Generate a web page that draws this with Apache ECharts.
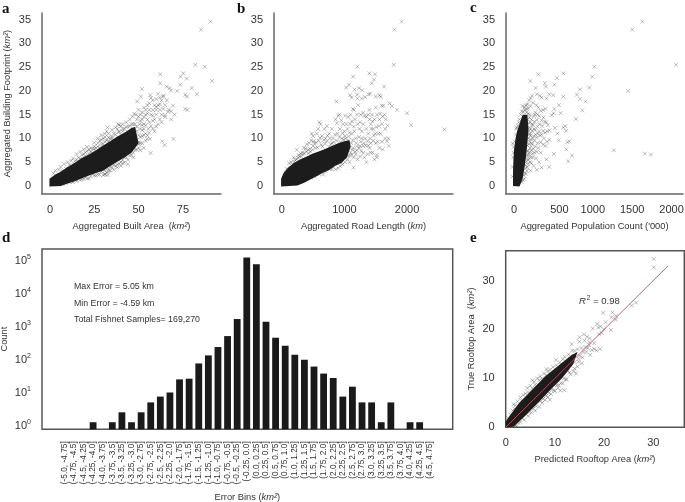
<!DOCTYPE html>
<html><head><meta charset="utf-8">
<script src="https://cdn.jsdelivr.net/npm/echarts@6/dist/echarts.min.js"></script>
<style>html,body{margin:0;padding:0;background:#fff}#c{width:685px;height:502px}</style></head>
<body><div id="c"></div>
<script>
const footprintTicks=[0,5,10,15,20,25,30,35];
const builtTicks=[0,25,50,75];
const roadTicks=[0,1000,2000];
const popTicks=[0,500,1000,1500,2000];
const rooftopTicks=[0,10,20,30];
const countTicks=[1,10,100,1000,10000,100000];

// dense, fully inked part of each cloud: outline
const coreBuilt=[[-0.3,1.5],[3,2.4],[6,3],[10,4],[14,4.9],[18,5.9],[22,6.6],[26,7.5],[30,8.5],[34,9.4],[38,10.4],[42,11.2],[46,12.2],[48,12.4],[50,9],[46,7],[42,6],[38,5.1],[34,4.2],[30,3.2],[26,2.7],[22,2.2],[18,1.6],[14,1],[10,0.5],[6,0],[-0.3,-0.1]];
const coreRoad=[[-10,1.5],[30,2.7],[100,3.8],[200,4.9],[300,5.6],[400,6.2],[500,6.8],[600,7.3],[700,7.8],[800,8.4],[900,9],[1000,9.4],[1080,9.6],[1100,8.3],[1040,6],[950,4.8],[850,4.2],[750,3.3],[650,2.7],[550,2],[450,1.3],[350,0.6],[250,0.1],[-10,-0.1]];
const corePop=[[-12,0],[-12,3],[-8,5],[0,7.5],[20,10],[40,11.5],[80,13.5],[110,15],[170,15],[185,12],[170,9],[155,6.5],[135,4],[110,1.5],[70,-0.1]];
const coreRoof=[[0,1.2],[2.6,4.8],[5.3,7.6],[8,10.4],[10.7,12.6],[13.4,14.8],[14.6,15.4],[13.7,12.9],[11.4,10],[9.3,7.9],[6.6,5],[3.9,2.3],[1.6,0.1],[0,0]];

const builtPoints=[[90.6,34.6],[85.3,32.9],[82,25.5],[87.4,25.1],[91.5,22.1],[62.2,23.5],[75.2,23.7],[73.7,23],[77.2,22.6],[62.2,21.6],[73.5,21.3],[51.9,20.4],[65.8,20.9],[67.5,20.6],[68.2,20.1],[71.8,20],[80,20.6],[82.9,19.3],[76.3,19.2],[77.2,18.8],[76.3,16.2],[77.6,16],[69.4,16.9],[68.4,15.7],[66.7,15.6],[70.3,15],[64.8,14.9],[68.4,14],[69.7,9.9],[63.3,9.4],[64.7,8.6],[56.8,6.9],[56.4,9.9],[54.9,9.9],[51.3,18.8],[49.2,17.8],[56.6,19.1],[61,19.4],[63.9,18.8],
[14,5.2],[16,6],[18,6.5],[20,7],[22,7.6],[24,7.8],[25,8.3],[26,7.4],[27,9],[28,9.5],[29,8.8],[30,10],[31,10.3],[32,11.5],[32.5,12.3],[33,11],[34,10],[35,10.4],[36,11],[38,12],[38.5,13],[39,11.3],[40,12.6],[41,11.5],[41,13],[42,12],[43,13.4],[44,12.5],[45,14],[45,11],[46,13],[46.5,14.6],[47,12],[47.5,15.2],[48,13],[48.5,15],[49,14],[49,11.5],[50,16],[50.5,13],[51,15],[51,12],[52,14],[52,10.5],[53,16.5],[53,13],[54,15],[54,11],[55,17],[55,14],[55.5,12],[56,16],[56,13.4],[57,15],[57,18.5],[58,16],[58,12],[59,17],[59,14],[60,18.3],[60,15],[61,17],[61,13],[62,16],[63,18],[63,15],[64,19],[65,17],[65,14.5],[66,18],[67,16],
[8,1],[12,1],[15,1.3],[18,1.4],[20,1.8],[22,1.6],[24,2.5],[26,2.2],[28,2.4],[30,2.3],[31,2.5],[33,3.5],[34,4],[36,4.4],[38,4.5],[40,5],[41,4.8],[42,6],[44,5.5],[46,6.5],[47,6],[48,7.6],[50,8],[51,7.5],[52,9],[53,8],[54,9.5],
[36,9.6],[37,8],[39,9.5],[40,10.7],[41,7.5],[43,8.5],[44,10],[45,8.6],[46,10.5],[47,8.5],[48,10.5],[49,9.7],[50,10.7],[50,9.2],[51,10.3],[52,11.7],[53,10.7],[53,12],[54,12.8],[55,10.6],[56,11.2],[57,12.6],[58,13.7],[59,11.5],[60,12.5],[60,16.6],[62,14],[62,18.6],
[8,3],[10,3.6],[12,4.2],[14,4.4],[16,5],[18,5.6],[20,6.3],[22,6.7],[24,7],[26,8],[28,8],[30,8.8],[32,9.6],[34,9.3],
[2,2.6],[3,3.2],[4,2],[5,3.4],[6,4],[7,3.1],[8,4.6],[9,3.6],[10,5],[11,4.4],[12,5.3],[13,5.8],[15,5.5],[15,6.7],[17,5.7],[17,7.2],[19,6.7],[19,7.7],[21,7.4],[21,8.2],[23,8],[23,7.2],[25,7.8],[25,9.1],[27,8.3],[27,10],[29,9.7],[29,10.7],[31,9.3],[31,11],[33,10.2],[33,9.4],[35,10],[35,11.8],[37,10.8],[37,12.3],[39,11.5],[39,12.8],[41,12],[43,12.4],[43,11],[45,12.6],[47,13],[49,12.5],[51,13.7],
[5,0.3],[7,0.4],[9,0.6],[11,0.8],[13,0.8],[15,1],[17,1.3],[19,1.5],[21,1.6],[23,2],[25,2.2],[27,2.4],[29,3],[31,3.2],[32,2.8],[33,3.1],[35,3.9],[37,4.2],[39,4.7],[41,5.5],[43,6],[45,6.4],[47,7],[49,7.6],[50,8.8],[51,9],[47,8.5],[45,7.8],[43,7.2],[31,2.4],[32.5,2.3],[34,3.2],[36,3.4],[38,3.9],[40,4.2],[42,4.9],[44,4.6],
[52,15.5],[54,16],[56,17.4],[58,18],[60,16],[62,17.2],[64,16.2],[63,13.4],[58,14.8],[55,15.2],[53,14.5],[52,12.8],[50,14.6],[48,12],[46,11.4],[44,11.4],[42,9.6],[40,9],[38,8.7]];

const roadPoints=[[1915,34.6],[1798,32.9],[1787,25.5],[1207,25.1],[1138,23],[1399,23.7],[1489,23.5],[1473,22.4],[1436,21.6],[1633,20.9],[1027,20.7],[1074,21.3],[1160,20.3],[1234,20.6],[1282,20.1],[1090,19.1],[1117,18.6],[1202,19.2],[1207,18.4],[1277,18.4],[1330,18.7],[1383,19.3],[1410,19.4],[1500,18.8],[1559,19.1],[1580,18.8],[872,17.8],[1138,16.2],[1718,17.4],[1760,16.8],[1622,16.9],[1596,16.9],[1840,16],[2000,15.3],[2064,12.8],[2596,11.9],[1702,10],[1681,9.4],[1707,8.4],[1612,7.7],[1516,6.5],[1479,5.6],[1144,3.85],
[60,2.8],[120,4.8],[170,4.5],[190,6],[240,7.6],[260,5.9],[300,6.8],[330,7],[350,8],[400,8.8],[420,7.6],[440,9],[470,9.6],[480,11],[500,10.5],[520,9],[560,11],[580,12],[600,13.4],[620,13],[640,10.5],[680,12],[700,10],[720,12.6],[760,11],[800,12],[820,10],[860,14],[880,13.2],[900,14.8],[920,15],[930,12],[960,10],[980,13],[1000,11.5],[1020,10],[1050,12],[1060,14.5],[1090,13],[1100,15],[1120,11],[1150,16],[1170,14],[1180,10],[1210,13],[1220,17],[1240,12],[1260,15],[1280,10],[1300,13],[1320,14.7],[1350,12],[1380,15],[1400,16],[1420,13],[1440,15],[1460,12],[1480,14],[1500,16.5],[1520,15],[1540,11],[1560,14],[1600,13],[1640,15],[1650,12],
[640,3],[680,3.4],[720,4],[760,4.2],[820,4],[900,3.7],[960,5],[1000,6],[1050,5.6],[1100,7],[1150,6],[1200,7.5],[1250,6.2],[1300,7],[1350,5],[1400,8],[1450,7],[1500,9],[1520,6],[1560,8],[1600,9.3],[1650,10],
[760,8.2],[800,9],[840,8],[880,9.5],[920,10.3],[950,8.5],[990,9.7],[1040,8.8],[1070,10.4],[1110,9],[1140,8],[1160,11.5],[1190,9],[1230,10.3],[1250,8.4],[1280,11.5],[1330,10],[1340,8.5],[1380,11],[1410,10],[1430,12],[1460,9.5],[1490,11],[1530,9.3],[1580,11],
[880,6],[920,5.4],[980,7],[1030,7.2],[1090,6.4],[1130,7.6],[1180,6.7],[1240,8],[1300,8.4],[1370,6.7],
[200,5.1],[280,6.2],[340,6.6],[390,7.2],[450,7.8],[500,8.4],[540,8],[590,9.5],[630,8.7],[670,9.7],[720,9.4],[770,10],
[40,2.2],[80,3.6],[130,3.9],[150,5],[210,5.5],[240,5.6],[270,6.5],[310,6.2],[360,6.9],[380,7.9],[430,6.9],[460,7.2],[490,7.6],[510,9.4],[550,9.1],[570,8.1],[610,10.1],[650,8.3],[690,8.9],[730,10.6],[780,8.8],[830,9.2],[850,10.8],[890,11],[940,9.2],[970,11.1],[1010,10.5],[1060,9.6],[1080,11.2],
[470,1.7],[520,2],[560,2.6],[600,2.5],[660,2.4],[700,3.1],[770,3.6],[800,3.5],[860,3.5],[930,4.2],[970,4.5],[1010,5],[1060,6.3],[1080,5],[1120,6.6],[1170,7.2],[1210,5.6],[1270,7.3],[1320,6],[1380,8.5],[1420,7],
[1080,8],[1130,9.6],[1200,8.3],[1260,9.3],[1310,9],[1370,9.4],[1420,9],[1470,10.6],[1510,12.4],[1550,12.6],[1570,15.2],[1610,14.6],[1660,14],[1690,12.7],[1450,13.6],[1400,14],[1350,14.6],[1300,15.4],[1250,13.4],[1200,15],[1150,12.5],[1120,13.6],[1030,13],[1010,14.8],[950,13.8]];

const popPoints=[[1628,34.6],[1501,32.9],[2055,25.5],[1019,25.1],[994,23],[626,23.7],[309,23.5],[545,22.7],[207,22.1],[393,21.6],[512,21.3],[275,20.6],[406,20.9],[1450,20],[956,20.7],[837,20.3],[799,19.2],[841,18.3],[909,17.8],[626,18.8],[448,19.3],[499,19.1],[414,18.4],[571,17],[512,16.2],[592,15.3],[503,15.3],[478,14.9],[867,15.9],[786,14.1],[520,12.2],[626,12.3],[651,12.6],[664,11.6],[550,11],[567,9.6],[677,9.2],[702,9.4],[664,7.7],[736,6.4],[689,5.2],[507,6.7],[1268,7.5],[1662,6.8],[1738,6.6],[448,4],[414,5.6],[351,3.9],
[290,19.3],[330,19],[350,18.6],[230,19],[210,18.5],[190,18],[170,17.2],[150,17],[130,16.5],[180,16.3],[210,16.8],[240,17.5],[310,16.5],[340,15.8],[370,16],[400,16.2],[270,15.5],[300,15],[320,14.7],[250,14.7],[200,15],[220,14],[260,13.5],[290,13.9],[350,13.8],[390,13.5],[410,13.4],[430,12.8],[360,12.6],[300,12.5],[240,12.8],[200,12.3],[230,11.5],[270,11.8],[320,11.5],[370,11.6],[420,11.5],[450,11.7],[210,10.6],[250,10.5],[290,10.2],[330,10.6],[380,10],[260,9.5],[300,9],[340,9.2],[420,9.3],[450,9.7],[200,9.3],[230,8.7],[270,8.3],[310,8],[370,8.7],[400,8.4],[220,7.5],[260,7],[290,7.2],[340,7],[190,6.6],[240,6],[280,5.8],[320,5],[180,5.5],[220,4.8],[250,4.2],[290,3.4],[170,4],[210,3.2],[150,2.5],[130,1.5],[100,0.8],
[-15,8.9],[-5,7],[30,12],[50,12.7],[70,14],[85,15],[100,15.7],[110,16.8],[160,15.5],[175,14],[190,13.2],[200,11],[185,10],[170,8.5],[165,7.3],[150,5.8],[140,4.4],
[120,15.6],[140,16],[160,16.2],[180,15.2],[195,14.4],[205,13.4],[190,11.6],[210,12],[195,10.8],[215,9.8],[190,8.8],[205,8],[180,7.4],[195,7],[170,6.5],[185,5.9],[160,5.2],[175,4.6],[155,3.8],[165,3.2],[140,2.8],[125,2.2],[115,1.2],[-10,6],[-5,8.2],[10,9.4],[25,10.8],[35,12.3],[60,13.4],[-18,2],[-18,4],[240,10],[225,9],[245,7.8],[235,6.8],[215,6],[205,5],[235,13],[255,12],[275,10.8],[305,11],[350,10.8],[395,11.2],[265,15],[285,17],[325,13],[375,14.4]];

const roofPoints=[[30.1,34.4],[30.1,32.7],[25.6,24.9],[26.5,25.5],[19.8,23.4],[21.7,23.5],[21.5,22.5],[22.4,22.8],[22.4,22],[20.3,21.5],[21.4,19.9],[18.6,21.1],[19.3,20.6],[17.7,20.2],[15.9,19],[15,18.4],[13.4,17],[15,17.5],[16.5,18.5],[17.1,18.2],[18,17.2],[17.5,15.8],[18.5,15.7],[19.2,16],[15.5,13.1],[14.3,11],[11.9,7.6],[11.1,7.5],[9,5.6],[8.3,11.9],[5.4,9.6],[1.6,4.7],[10.2,13.8],
[19,19],[19.5,19.3],[18.8,20.4],[20,20],[17,17.4],[16.2,16.4],[17,16.8],[16,17.7],[15.4,16.2],[14.6,16],[14,15.6],[13.5,15.7],[15,14.6],[15.8,15.4],[14.8,13.4],[14,13.3],[13.2,12.6],[12.6,11.5],[12,14.4],[12.8,14.9],[11.6,13.9],[11,13.3],[10.3,12.7],[9.6,12.3],[9,11.8],[8.6,11.4],[7.8,11],[7,10.4],[6.4,10],[5.8,9.3],[5,8.5],[4.4,8],[3.6,6.6],[3,6.1],[2.4,5.3],[1.8,3.8],[1,2.6],
[12.2,9.8],[11.8,10],[11.2,9],[10.8,8.6],[10.4,8.6],[10,8.9],[9.8,7.6],[9.4,7.7],[8.8,7],[8.2,6.4],[7.6,5.8],[7,5.3],[6.2,4.3],[5.6,3.8],[4.8,3.1],[4.2,2.6],[3.4,1.8],[2.6,0.9],[2,0.4],
[13,11.2],[14.8,14],[15.6,14.3],[16.4,15.4],[17.2,14.8],[18,16],[16.7,16.2],[13.8,11.5],[12.4,12.6],[11.5,11],[12.9,13.2],
[0.5,1.9],[1.4,3.4],[2,4.5],[3.2,5.5],[4,6.9],[4.6,7.2],[5.4,8],[6,8.7],[6.8,9.6],[7.4,10],[8.2,10.6],[9.2,11],[9.8,11.4],[10.6,11.8],[11.3,12.8],[12.2,13.5],[13,14],[13.8,14.6],
[2.2,0.2],[3,1.1],[3.8,1.5],[4.6,2.3],[5.2,3],[6,3.4],[6.8,4.2],[7.4,5],[8,5.6],[8.6,6.2],[9.2,6.8],[10,7.4],[10.6,8],[11.6,9],[12.4,9.8],[13.2,10.8],[14,12],[14.6,12.4]];

const binLabels=["(-5.0, -4.75]","(-4.75, -4.5]","(-4.5, -4.25]","(-4.25, -4.0]","(-4.0, -3.75]","(-3.75, -3.5]","(-3.5, -3.25]","(-3.25, -3.0]","(-3.0, -2.75]","(-2.75, -2.5]","(-2.5, -2.25]","(-2.25, -2.0]","(-2.0, -1.75]","(-1.75, -1.5]","(-1.5, -1.25]","(-1.25, -1.0]","(-1.0, -0.75]","(-0.75, -0.5]","(-0.5, -0.25]","(-0.25, 0.0]","(0.0, 0.25]","(0.25, 0.5]","(0.5, 0.75]","(0.75, 1.0]","(1.0, 1.25]","(1.25, 1.5]","(1.5, 1.75]","(1.75, 2.0]","(2.0, 2.25]","(2.25, 2.5]","(2.5, 2.75]","(2.75, 3.0]","(3.0, 3.25]","(3.25, 3.5]","(3.5, 3.75]","(3.75, 4.0]","(4.0, 4.25]","(4.25, 4.5]","(4.5, 4.75]"];
const binCounts=[null,null,null,1,null,1,2,1,2,4,6,8,20,21,61,107,192,413,1360,100000,62800,1125,368,210,112,79,49,30,22,6,12,4,4,1,4,null,1,1,null];
const fitLine=[[0,0],[33,33]];

const FONT='"Liberation Sans",Arial,sans-serif', TXT='#333', AX='#666';
const xMark='path://M0 0L10 10M10 0L0 10';
const COUNT_MIN=0.61, COUNT_MAX=182000;
const chart=echarts.init(document.getElementById('c'),null,{renderer:'canvas'});
const nameRich={t:{fontSize:9.3,color:TXT,fontFamily:FONT},i:{fontSize:9.3,color:TXT,fontFamily:FONT,fontStyle:'italic'}};
const nameStyle={fontSize:9.3,color:TXT,fontFamily:FONT,rich:nameRich};
const unitName=(a,u,b)=>`{t|${a}}{i|${u}}{t|${b}}`;
const lbl=(extra)=>Object.assign({color:TXT,fontSize:11,fontFamily:FONT,formatter:v=>String(v)},extra||{});

function axisX(i,min,max,ticks,name,gap,labelExtra,full){
  return {gridIndex:i,type:'value',min,max,containShape:false,splitLine:{show:false},axisTick:{show:false},
    axisLine:{show:!full,onZero:false,lineStyle:{color:AX,width:1.5}},
    axisLabel:lbl(Object.assign({customValues:ticks,margin:10,hideOverlap:false},labelExtra||{})),
    name,nameLocation:'middle',nameGap:gap,nameTextStyle:nameStyle};
}
function axisY(i,min,max,ticks,name,gap,full){
  return {gridIndex:i,type:'value',min,max,containShape:false,splitLine:{show:false},axisTick:{show:false},
    axisLine:{show:!full,onZero:false,lineStyle:{color:AX,width:1.5}},
    axisLabel:lbl({customValues:ticks,margin:11}),
    name,nameLocation:'middle',nameGap:gap,nameRotate:90,nameTextStyle:nameStyle};
}
const cores=(i,pts)=>({type:'custom',xAxisIndex:i,yAxisIndex:i,data:pts,encode:{x:0,y:1},silent:true,z:3,
  renderItem:(p,api)=>p.dataIndex!==0?null:({type:'polygon',shape:{points:pts.map(q=>api.coord(q))},style:{fill:'#1c1c1c'}})});
const marks=(i,pts)=>({type:'scatter',xAxisIndex:i,yAxisIndex:i,data:pts,symbol:xMark,symbolSize:3.8,z:4,silent:true,
  itemStyle:{color:'none',borderColor:'rgba(40,40,40,0.55)',borderWidth:0.7}});

const panelText=(t,x,y)=>({type:'text',left:x,top:y,style:{text:t,font:'bold 15px "Liberation Serif",serif',fill:'#111'}});
const noteText=(t,x,y)=>({type:'text',left:x,top:y,style:{text:t,font:'8.8px "Liberation Sans",Arial,sans-serif',fill:TXT}});

chart.setOption({
  animation:false,backgroundColor:'#fff',
  grid:[
    {left:42,top:13,width:179,height:181,outerBoundsMode:'none'},
    {left:274,top:13,width:179,height:181,outerBoundsMode:'none'},
    {left:506,top:13,width:177,height:181,outerBoundsMode:'none'},
    {left:42,top:249,width:410.7,height:180.3,outerBoundsMode:'none',show:true,borderColor:'#555',borderWidth:1.5,backgroundColor:'transparent'},
    {left:505.7,top:250.7,width:178.6,height:176.6,outerBoundsMode:'none',show:true,borderColor:'#555',borderWidth:1.5,backgroundColor:'transparent'}
  ],
  xAxis:[
    axisX(0,-4.5,96.5,builtTicks,unitName('Aggregated Built Area  (','km\u00B2',')'),28),
    axisX(1,-123,2732,roadTicks,unitName('Aggregated Road Length (','km',')'),28),
    axisX(2,-101,2145,popTicks,"Aggregated Population Count ('000)",28,{
      formatter:v=>v===500?'{s|500}':String(v),
      rich:{s:{fontSize:11,color:TXT,fontFamily:FONT,padding:[0,0,0,12]}}}),
    {gridIndex:3,type:'value',min:-2.32,max:40.44,containShape:false,splitLine:{show:false},axisTick:{show:false},axisLine:{show:false},
      axisLabel:{customValues:binLabels.map((_,k)=>k),formatter:v=>binLabels[v]||'',rotate:90,fontSize:8.3,color:TXT,fontFamily:FONT,margin:12,hideOverlap:false},
      name:unitName('Error Bins (','km\u00B2',')'),nameLocation:'middle',nameGap:64,nameMoveOverlap:false,nameTextStyle:nameStyle},
    axisX(4,0,36.3,rooftopTicks,unitName('Predicted Rooftop Area (','km\u00B2',')'),28,null,true)
  ],
  yAxis:[
    axisY(0,-1.7,36.4,footprintTicks,unitName('Aggregated Building Footprint (','km\u00B2',')'),30),
    axisY(1,-1.7,36.4,footprintTicks,''),
    axisY(2,-1.7,36.4,footprintTicks,''),
    {gridIndex:3,type:'log',min:COUNT_MIN,max:COUNT_MAX,containShape:false,splitLine:{show:false},axisTick:{show:false},axisLine:{show:false},minorTick:{show:false},
      axisLabel:{customValues:countTicks,margin:11,padding:[7,0,0,0],
        formatter:v=>'{b|10}{s|'+Math.round(Math.log10(v))+'}',
        rich:{b:{fontSize:11,color:TXT,fontFamily:FONT},s:{fontSize:7,color:TXT,fontFamily:FONT,padding:[0,0,8,0]}}},
      name:'Count',nameLocation:'middle',nameGap:33,nameMoveOverlap:false,nameRotate:90,nameTextStyle:{fontSize:9.3,color:TXT,fontFamily:FONT}},
    axisY(4,0,36.1,rooftopTicks,unitName('True Rooftop Area  (','km\u00B2',')'),30,true)
  ],
  series:[
    cores(0,coreBuilt),marks(0,builtPoints),
    cores(1,coreRoad),marks(1,roadPoints),
    cores(2,corePop),marks(2,popPoints),
    {type:'custom',xAxisIndex:3,yAxisIndex:3,data:binCounts.map((c,k)=>[k,c]).filter(d=>d[1]!=null),encode:{x:0,y:1},silent:true,
      renderItem:(p,api)=>{
        const top=api.coord([api.value(0),api.value(1)]),base=api.coord([api.value(0),COUNT_MIN]);
        return {type:'rect',shape:{x:top[0]-3.4,y:top[1],width:6.8,height:base[1]-top[1]},style:{fill:'#1a1a1a'}};
      }},
    cores(4,coreRoof),marks(4,roofPoints),
    {type:'line',xAxisIndex:4,yAxisIndex:4,data:fitLine,showSymbol:false,silent:true,z:5,lineStyle:{color:'#c4505e',width:0.9}}
  ],
  graphic:[
    panelText('a',2,2),panelText('b',237,2),panelText('c',470,1),panelText('d',2,231),panelText('e',470,231),
    noteText('Max Error = 5.05 km',74,282),noteText('Min Error = -4.59 km',74,299),noteText('Total Fishnet Samples= 169,270',74,315),
    {type:'text',left:579,top:295,style:{text:'{i|R}{s|2}{t| = 0.98}',rich:{i:{fontSize:9.5,fontStyle:'italic',fill:TXT,fontFamily:FONT},s:{fontSize:6.5,fill:TXT,fontFamily:FONT,padding:[0,0,5,1]},t:{fontSize:9.5,fill:TXT,fontFamily:FONT}}}}
  ]
});
</script></body></html>
